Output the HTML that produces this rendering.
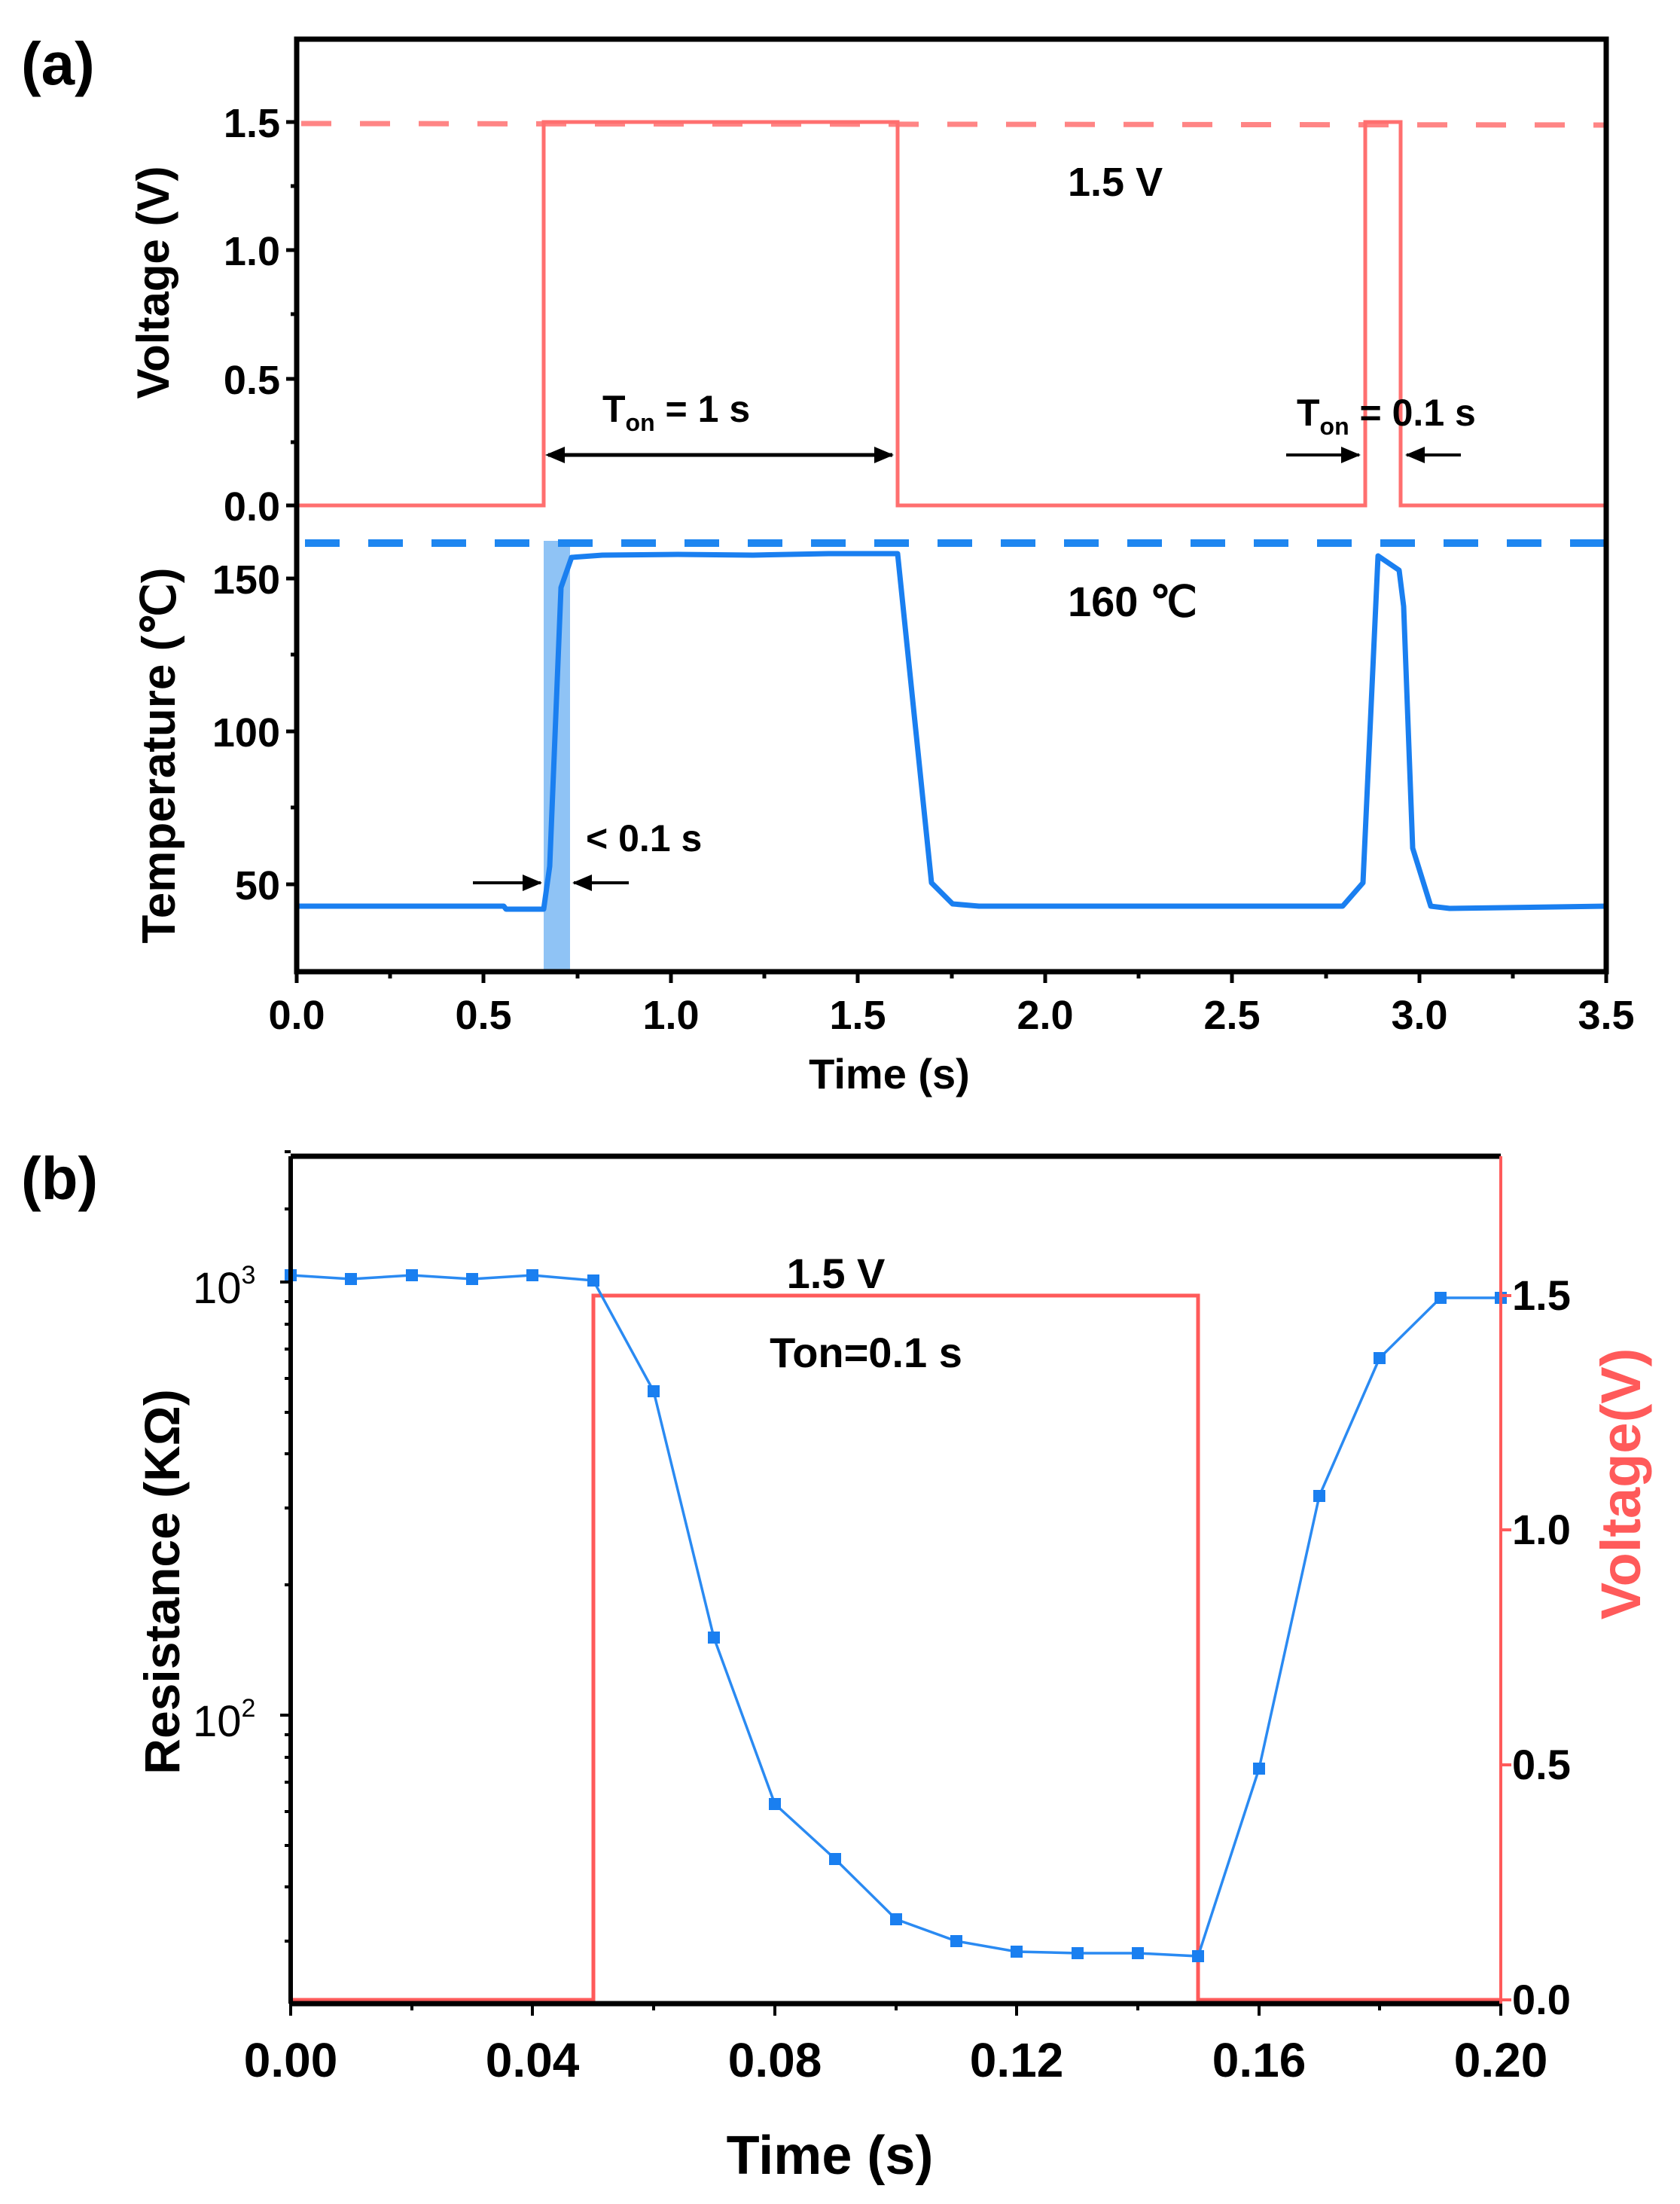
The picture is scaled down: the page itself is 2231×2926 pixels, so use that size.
<!DOCTYPE html>
<html><head><meta charset="utf-8"><style>
html,body{margin:0;padding:0;background:#fff}
svg{display:block}
text{font-family:"Liberation Sans",Arial,sans-serif;font-weight:bold;fill:#000}
.tk{font-size:54px}
.rt{font-family:"Liberation Serif",serif;font-weight:normal;fill:#ff5a5a;font-size:56px}
</style></head><body>
<svg width="2231" height="2926" viewBox="0 0 2231 2926" xmlns="http://www.w3.org/2000/svg">
<defs>
<marker id="ah" markerWidth="26" markerHeight="22" refX="24" refY="11" orient="auto" markerUnits="userSpaceOnUse" viewBox="0 0 26 22"><path d="M0,0 L26,11 L0,22 z" fill="#000"/></marker>
</defs>
<text x="28" y="112" style="font-size:80px">(a)</text>
<rect x="722" y="718" width="35" height="572" fill="#8fc3f5"/>
<line x1="400" y1="164" x2="2133" y2="166" stroke="#ff8585" stroke-width="7" stroke-dasharray="40,38"/>
<line x1="405" y1="721" x2="2133" y2="721" stroke="#1e86f0" stroke-width="10" stroke-dasharray="46,38"/>
<polyline fill="none" stroke="#ff6f6f" stroke-width="5" points="394,671 722,671 722,162 1192,162 1192,671 1813,671 1813,162 1860,162 1860,671 2133,671"/>
<polyline fill="none" stroke="#1a7ff0" stroke-width="7" stroke-linejoin="round" points="394,1203 669,1203 672,1207 722,1207 730,1150 745,780 759,740 800,737 900,736 1000,737 1100,735 1192,735 1237,1172 1265,1200 1300,1203 1500,1203 1783,1203 1810,1172 1830,738 1858,757 1864,805 1876,1126 1900,1203 1925,1206 2133,1203"/>
<rect x="394" y="52" width="1739" height="1238" fill="none" stroke="#000" stroke-width="7"/>
<g stroke="#000" stroke-width="5">
<line x1="380" y1="162" x2="394" y2="162"/><line x1="380" y1="332" x2="394" y2="332"/><line x1="380" y1="503" x2="394" y2="503"/><line x1="380" y1="671" x2="394" y2="671"/>
<line x1="380" y1="768" x2="394" y2="768"/><line x1="380" y1="971" x2="394" y2="971"/><line x1="380" y1="1174" x2="394" y2="1174"/>
<line x1="386" y1="247" x2="394" y2="247"/><line x1="386" y1="417" x2="394" y2="417"/><line x1="386" y1="587" x2="394" y2="587"/>
<line x1="386" y1="869" x2="394" y2="869"/><line x1="386" y1="1072" x2="394" y2="1072"/>
</g>
<g class="tk" text-anchor="end">
<text x="372" y="182">1.5</text><text x="372" y="352">1.0</text><text x="372" y="523">0.5</text><text x="372" y="691">0.0</text>
<text x="372" y="788">150</text><text x="372" y="991">100</text><text x="372" y="1194">50</text>
</g>
<g stroke="#000" stroke-width="5">
<line x1="394" y1="1290" x2="394" y2="1305"/><line x1="642" y1="1290" x2="642" y2="1305"/><line x1="891" y1="1290" x2="891" y2="1305"/><line x1="1139" y1="1290" x2="1139" y2="1305"/><line x1="1388" y1="1290" x2="1388" y2="1305"/><line x1="1636" y1="1290" x2="1636" y2="1305"/><line x1="1885" y1="1290" x2="1885" y2="1305"/><line x1="2133" y1="1290" x2="2133" y2="1305"/>
<line x1="518" y1="1290" x2="518" y2="1299"/><line x1="767" y1="1290" x2="767" y2="1299"/><line x1="1015" y1="1290" x2="1015" y2="1299"/><line x1="1264" y1="1290" x2="1264" y2="1299"/><line x1="1512" y1="1290" x2="1512" y2="1299"/><line x1="1761" y1="1290" x2="1761" y2="1299"/><line x1="2009" y1="1290" x2="2009" y2="1299"/>
</g>
<g class="tk" text-anchor="middle">
<text x="394" y="1366">0.0</text><text x="642" y="1366">0.5</text><text x="891" y="1366">1.0</text><text x="1139" y="1366">1.5</text><text x="1388" y="1366">2.0</text><text x="1636" y="1366">2.5</text><text x="1885" y="1366">3.0</text><text x="2133" y="1366">3.5</text>
</g>
<text x="1181" y="1445" text-anchor="middle" style="font-size:56px">Time (s)</text>
<text transform="translate(224,375) rotate(-90)" text-anchor="middle" style="font-size:60px">Voltage (V)</text>
<text transform="translate(232,1003) rotate(-90)" text-anchor="middle" style="font-size:62px">Temperature (℃)</text>
<text x="1418" y="260" style="font-size:54px">1.5 V</text>
<text x="1418" y="818" style="font-size:56px">160 ℃</text>
<text x="800" y="560" style="font-size:50px">T<tspan dy="12" style="font-size:32px">on</tspan><tspan dy="-12"> = 1 s</tspan></text>
<line x1="728" y1="604" x2="1185" y2="604" stroke="#000" stroke-width="5" marker-end="url(#ah)"/>
<path d="M724,604 L750,593 L750,615 z" fill="#000"/>
<text x="1722" y="565" style="font-size:50px">T<tspan dy="12" style="font-size:32px">on</tspan><tspan dy="-12"> = 0.1 s</tspan></text>
<line x1="1708" y1="604" x2="1805" y2="604" stroke="#000" stroke-width="4" marker-end="url(#ah)"/>
<line x1="1940" y1="604" x2="1868" y2="604" stroke="#000" stroke-width="4" marker-end="url(#ah)"/>
<text x="778" y="1130" style="font-size:50px">&lt; 0.1 s</text>
<line x1="628" y1="1172" x2="718" y2="1172" stroke="#000" stroke-width="4" marker-end="url(#ah)"/>
<line x1="835" y1="1172" x2="762" y2="1172" stroke="#000" stroke-width="4" marker-end="url(#ah)"/>

<text x="28" y="1592" style="font-size:80px">(b)</text>
<polyline fill="none" stroke="#ff5a5a" stroke-width="5" points="386,2655 788,2655 788,1720 1591,1720 1591,2655 1993,2655"/>
<g fill="#1a7ff0">
<polyline fill="none" stroke="#2a8af2" stroke-width="3.5" points="386,1693 466,1698 547,1693 627,1698 707,1693 788,1700 868,1847 948,2174 1029,2395 1109,2468 1190,2548 1270,2577 1350,2591 1431,2593 1511,2593 1591,2597 1672,2348 1752,1986 1832,1803 1913,1723 1993,1723"/>
<rect x="378" y="1685" width="16" height="16"/><rect x="458" y="1690" width="16" height="16"/><rect x="539" y="1685" width="16" height="16"/><rect x="619" y="1690" width="16" height="16"/><rect x="699" y="1685" width="16" height="16"/><rect x="780" y="1692" width="16" height="16"/><rect x="860" y="1839" width="16" height="16"/><rect x="940" y="2166" width="16" height="16"/><rect x="1021" y="2387" width="16" height="16"/><rect x="1101" y="2460" width="16" height="16"/><rect x="1182" y="2540" width="16" height="16"/><rect x="1262" y="2569" width="16" height="16"/><rect x="1342" y="2583" width="16" height="16"/><rect x="1423" y="2585" width="16" height="16"/><rect x="1503" y="2585" width="16" height="16"/><rect x="1583" y="2589" width="16" height="16"/><rect x="1664" y="2340" width="16" height="16"/><rect x="1744" y="1978" width="16" height="16"/><rect x="1824" y="1795" width="16" height="16"/><rect x="1905" y="1715" width="16" height="16"/><rect x="1985" y="1715" width="16" height="16"/>
</g>
<line x1="386" y1="1535" x2="1993" y2="1535" stroke="#000" stroke-width="7"/>
<line x1="386" y1="2660" x2="1993" y2="2660" stroke="#000" stroke-width="7"/>
<line x1="386" y1="1535" x2="386" y2="2660" stroke="#000" stroke-width="6"/>
<line x1="1993" y1="1535" x2="1993" y2="2660" stroke="#ff5a5a" stroke-width="4"/>
<g stroke="#000" stroke-width="4">
<line x1="372" y1="1702" x2="386" y2="1702"/><line x1="372" y1="2277" x2="386" y2="2277"/>
<line x1="378" y1="1728" x2="386" y2="1728"/><line x1="378" y1="1758" x2="386" y2="1758"/><line x1="378" y1="1791" x2="386" y2="1791"/><line x1="378" y1="1830" x2="386" y2="1830"/><line x1="378" y1="1875" x2="386" y2="1875"/><line x1="378" y1="1930" x2="386" y2="1930"/><line x1="378" y1="2002" x2="386" y2="2002"/><line x1="378" y1="2104" x2="386" y2="2104"/>
<line x1="378" y1="2303" x2="386" y2="2303"/><line x1="378" y1="2333" x2="386" y2="2333"/><line x1="378" y1="2366" x2="386" y2="2366"/><line x1="378" y1="2405" x2="386" y2="2405"/><line x1="378" y1="2450" x2="386" y2="2450"/><line x1="378" y1="2505" x2="386" y2="2505"/><line x1="378" y1="2577" x2="386" y2="2577"/>
<line x1="378" y1="1605" x2="386" y2="1605"/><line x1="378" y1="1529" x2="386" y2="1529"/>
</g>
<text x="256" y="1730" style="font-size:58px;font-weight:normal">10<tspan dy="-26" style="font-size:34px">3</tspan></text>
<text x="256" y="2305" style="font-size:58px;font-weight:normal">10<tspan dy="-26" style="font-size:34px">2</tspan></text>
<g stroke="#000" stroke-width="4">
<line x1="386" y1="2660" x2="386" y2="2676"/><line x1="707" y1="2660" x2="707" y2="2676"/><line x1="1029" y1="2660" x2="1029" y2="2676"/><line x1="1350" y1="2660" x2="1350" y2="2676"/><line x1="1672" y1="2660" x2="1672" y2="2676"/><line x1="1993" y1="2660" x2="1993" y2="2676"/>
<line x1="547" y1="2660" x2="547" y2="2669"/><line x1="868" y1="2660" x2="868" y2="2669"/><line x1="1190" y1="2660" x2="1190" y2="2669"/><line x1="1511" y1="2660" x2="1511" y2="2669"/><line x1="1832" y1="2660" x2="1832" y2="2669"/>
</g>
<g class="tk" text-anchor="middle" style="font-size:64px">
<text x="386" y="2757">0.00</text><text x="707" y="2757">0.04</text><text x="1029" y="2757">0.08</text><text x="1350" y="2757">0.12</text><text x="1672" y="2757">0.16</text><text x="1993" y="2757">0.20</text>
</g>
<text x="1102" y="2886" text-anchor="middle" style="font-size:72px">Time (s)</text>
<g stroke="#ff5a5a" stroke-width="4">
<line x1="1993" y1="2655" x2="2007" y2="2655"/><line x1="1993" y1="2343" x2="2007" y2="2343"/><line x1="1993" y1="2031" x2="2007" y2="2031"/><line x1="1993" y1="1720" x2="2007" y2="1720"/>
</g>
<g class="rt">
<text x="2008" y="2674">0.0</text><text x="2008" y="2362">0.5</text><text x="2008" y="2050">1.0</text><text x="2008" y="1739">1.5</text>
</g>
<text transform="translate(238,2100) rotate(-90)" text-anchor="middle" style="font-size:66px">Resistance (KΩ)</text>
<text transform="translate(2178,1970) rotate(-90)" text-anchor="middle" style="font-size:74px;fill:#ff5a5a">Voltage(V)</text>
<text x="1110" y="1710" text-anchor="middle" style="font-size:56px">1.5 V</text>
<text x="1150" y="1815" text-anchor="middle" style="font-size:56px">Ton=0.1 s</text>
</svg>
</body></html>
